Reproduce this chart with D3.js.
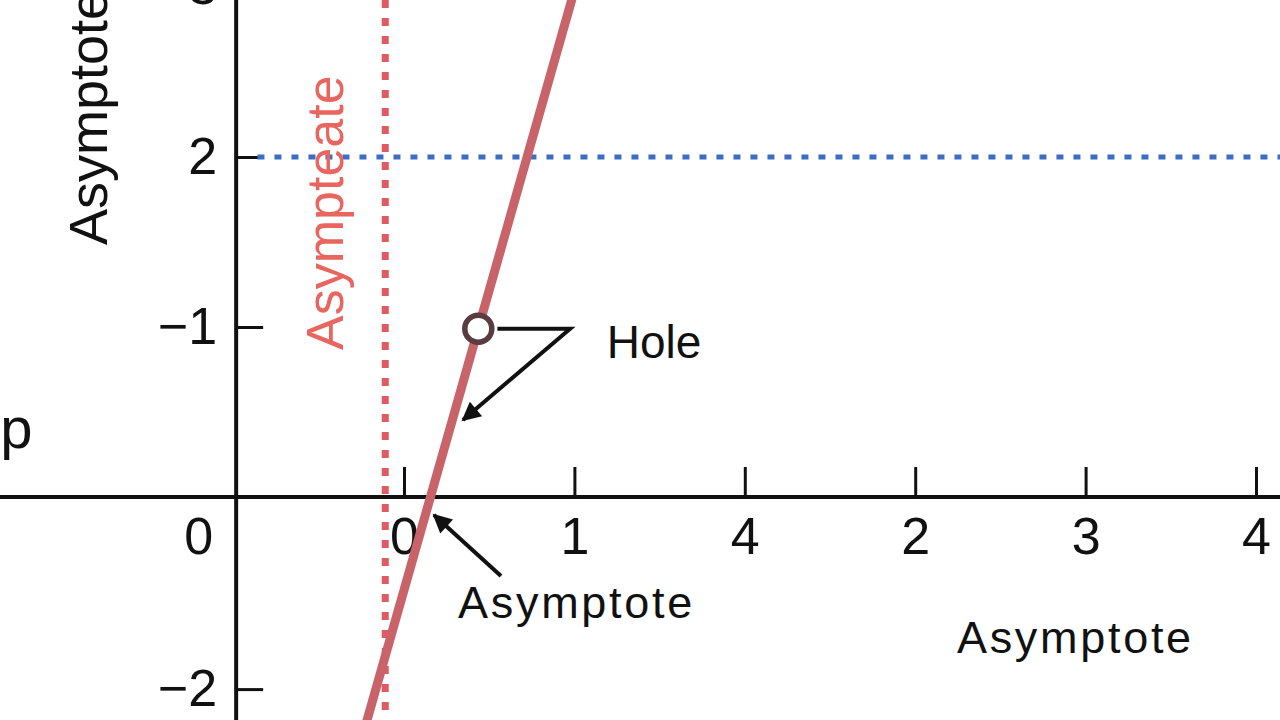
<!DOCTYPE html>
<html>
<head>
<meta charset="utf-8">
<script src="https://cdn.jsdelivr.net/npm/d3@7"></script>
<style>
  body { margin: 0; background: #fff; }
  svg { display: block; font-family: "Liberation Sans", Arial, sans-serif; }
</style>
</head>
<body>
<svg id="chart" width="1280" height="720"></svg>
<script>
// tick positions (data units) and the labels printed at them
var xTickPos = [0, 1, 2, 3, 4, 5];
var xTickLabels = ["0", "1", "4", "2", "3", "4"];
var yTickPos = [3, 2, 1, -1.13];
var yTickLabels = ["3", "2", "\u22121", "\u22122"];

// the sloped line, its hole and the two asymptotes
var lineX = [-0.27, 1.02];
var lineY = [-1.5, 3.05];
var holeX = 0.436, holeY = 0.99;
var vAsymX = -0.11;
var hAsymY = 2, hAsymFrom = -0.86;
var yAxisAt = -0.985;

// annotation anchors (data units)
var holeArrowX = [0.548, 0.975, 0.346];
var holeArrowY = [0.99, 0.99, 0.453];
var asymArrowX = [0.569, 0.176];
var asymArrowY = [-0.465, -0.106];

var W = 1280, H = 720;
var svg = d3.select("#chart");

var x = d3.scaleLinear().domain([0, 5]).range([404, 1256]);
var y = d3.scaleLinear().domain([0, 1]).range([497, 327]);

svg.append("defs").append("marker")
    .attr("id", "head")
    .attr("viewBox", "0 0 10 10")
    .attr("refX", 9).attr("refY", 5)
    .attr("markerUnits", "userSpaceOnUse")
    .attr("markerWidth", 24).attr("markerHeight", 19)
    .attr("orient", "auto")
  .append("path")
    .attr("d", "M0,0 L10,5 L0,10 z")
    .attr("fill", "#111");

// main axes, full width / height
svg.append("line")
    .attr("x1", 0).attr("x2", W)
    .attr("y1", y(0)).attr("y2", y(0))
    .attr("stroke", "#111").attr("stroke-width", 4);
svg.append("line")
    .attr("x1", x(yAxisAt)).attr("x2", x(yAxisAt))
    .attr("y1", 0).attr("y2", H)
    .attr("stroke", "#111").attr("stroke-width", 4);

var xAxis = svg.append("g")
    .attr("transform", "translate(0," + y(0) + ")")
    .call(d3.axisBottom(x)
	  .tickValues(xTickPos)
	  .tickFormat(function(d, i) { return xTickLabels[i]; })
	  .tickSizeInner(-30).tickSizeOuter(0).tickPadding(20));
xAxis.select(".domain").remove();
xAxis.selectAll("line").attr("stroke", "#111").attr("stroke-width", 3);
xAxis.selectAll("text")
    .attr("fill", "#111")
    .style("font-size", "52px")
    .style("font-family", "Liberation Sans, Arial, sans-serif");

var yAxis = svg.append("g")
    .attr("transform", "translate(" + x(yAxisAt) + ",0)")
    .call(d3.axisLeft(y)
	  .tickValues(yTickPos)
	  .tickFormat(function(d, i) { return yTickLabels[i]; })
	  .tickSizeInner(-27).tickSizeOuter(0).tickPadding(19));
yAxis.select(".domain").remove();
yAxis.selectAll("line").attr("stroke", "#111").attr("stroke-width", 3);
yAxis.selectAll("text")
    .attr("fill", "#111")
    .style("font-size", "52px")
    .style("font-family", "Liberation Sans, Arial, sans-serif");

// origin label left of the y axis
svg.append("text")
    .attr("x", x(-1.12)).attr("y", y(-0.335))
    .attr("text-anchor", "end")
    .attr("fill", "#111")
    .style("font-size", "52px")
    .text("0");

// dotted asymptotes
svg.append("line")
    .attr("x1", x(hAsymFrom)).attr("x2", W)
    .attr("y1", y(hAsymY)).attr("y2", y(hAsymY))
    .attr("stroke", "#3d6cc4").attr("stroke-width", 5)
    .attr("stroke-dasharray", "7 10");
svg.append("line")
    .attr("x1", x(vAsymX)).attr("x2", x(vAsymX))
    .attr("y1", 0).attr("y2", H)
    .attr("stroke", "#e05a64").attr("stroke-width", 7)
    .attr("stroke-dasharray", "8 10");

// the line itself
var pts = lineX.map(function(d, i) { return [x(d), y(lineY[i])]; });
svg.append("path")
    .attr("d", d3.line()(pts))
    .attr("stroke", "#c9636a").attr("stroke-width", 9)
    .attr("fill", "none");

// hole
svg.append("circle")
    .attr("cx", x(holeX)).attr("cy", y(holeY))
    .attr("r", 13.5)
    .attr("fill", "#fff")
    .attr("stroke", "#5a3b40").attr("stroke-width", 5.5);

// arrows
var holePts = holeArrowX.map(function(d, i) { return [x(d), y(holeArrowY[i])]; });
svg.append("path")
    .attr("d", d3.line()(holePts))
    .attr("stroke", "#111").attr("stroke-width", 4)
    .attr("fill", "none")
    .attr("marker-end", "url(#head)");
var asymPts = asymArrowX.map(function(d, i) { return [x(d), y(asymArrowY[i])]; });
svg.append("path")
    .attr("d", d3.line()(asymPts))
    .attr("stroke", "#111").attr("stroke-width", 4)
    .attr("fill", "none")
    .attr("marker-end", "url(#head)");

// labels
svg.append("text")
    .attr("x", x(1.19)).attr("y", y(0.818))
    .attr("fill", "#111").style("font-size", "46px")
    .text("Hole");
svg.append("text")
    .attr("x", x(0.317)).attr("y", y(-0.712))
    .attr("fill", "#111").style("font-size", "45px")
    .style("letter-spacing", "2.7px")
    .text("Asymptote");
svg.append("text")
    .attr("x", x(3.245)).attr("y", y(-0.918))
    .attr("fill", "#111").style("font-size", "45px")
    .style("letter-spacing", "2.7px")
    .text("Asymptote");
svg.append("text")
    .attr("x", x(-2.37)).attr("y", y(0.288))
    .attr("fill", "#111").style("font-size", "58px")
    .text("p");
svg.append("text")
    .attr("transform", "translate(" + x(-1.743) + "," + y(1.482) + ") rotate(-90)")
    .attr("fill", "#111").style("font-size", "54px")
    .text("Asymptote");
svg.append("text")
    .attr("transform", "translate(" + x(-0.358) + "," + y(0.865) + ") rotate(-90)")
    .attr("fill", "#e8665f").style("font-size", "52px")
    .text("Asympteate");
</script>
</body>
</html>
